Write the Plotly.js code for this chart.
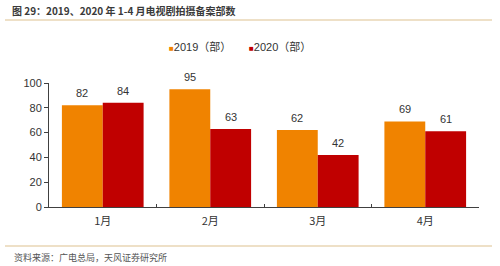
<!DOCTYPE html>
<html>
<head>
<meta charset="utf-8">
<script src="https://cdn.plot.ly/plotly-3.0.1.min.js"></script>
<style>
  html, body { margin: 0; padding: 0; background: #ffffff; }
  #chart { width: 500px; height: 266px; }
</style>
</head>
<body>
<div id="chart"></div>
<script>
// 电视剧拍摄备案部数（1-4 月）
const months = ['1月', '2月', '3月', '4月'];
const counts2019 = [82, 95, 62, 69];
const counts2020 = [84, 63, 42, 61];
const seriesNames = ['2019（部）', '2020（部）'];
const yTicks = [0, 20, 40, 60, 80, 100];

const ORANGE = '#F08300';
const RED = '#C00000';
const FONT = 'Liberation Sans, Arial, Noto Sans CJK SC, sans-serif';
const PLOT_W = 430;   // plot area width in px
const PLOT_H = 124;   // plot area height in px
const HALF_BAR = PLOT_W / months.length * (1 - 0.24) / 4; // half a bar, px

function barTrace(values, name, color) {
  return {
    type: 'bar',
    x: months,
    y: values,
    name: name,
    marker: { color: color },
    showlegend: false,
    hoverinfo: 'x+y'
  };
}

const data = [
  barTrace(counts2019, seriesNames[0], ORANGE),
  barTrace(counts2020, seriesNames[1], RED)
];

// value labels above each bar
function valueLabels(values, side) {
  return values.map((v, i) => ({
    x: months[i],
    y: v,
    xref: 'x', yref: 'y',
    text: String(v),
    showarrow: false,
    xanchor: 'center', yanchor: 'bottom',
    xshift: side * HALF_BAR,
    yshift: 4,
    font: { family: FONT, size: 11, color: '#333333' }
  }));
}

// legend keys: small coloured square followed by the series name
function legendKey(name, color, px) {
  return {
    text: '<span style="font-size:8px;color:' + color + '">■</span>' + name,
    xref: 'paper', yref: 'paper',
    x: (px - 49) / PLOT_W, xanchor: 'left',
    y: 1 + 37 / PLOT_H, yanchor: 'middle',
    showarrow: false,
    font: { family: 'Liberation Sans, Noto Sans CJK SC, sans-serif', size: 11, color: '#333333' }
  };
}

const rule = { type: 'line', xref: 'paper', yref: 'paper', line: { color: '#E9D6B4', width: 1.5 } };

const layout = {
  width: 500,
  height: 266,
  margin: { l: 49, r: 21, t: 83, b: 59 },
  paper_bgcolor: '#ffffff',
  plot_bgcolor: '#ffffff',
  font: { family: FONT, size: 11, color: '#333333' },
  title: {
    text: '<b>图 29：2019、2020 年 1-4 月电视剧拍摄备案部数</b>',
    font: { family: 'Noto Sans CJK SC, sans-serif', size: 10, color: '#3a3a3a' },
    xref: 'container', yref: 'container',
    x: 12 / 500, xanchor: 'left',
    y: 1 - 11 / 266, yanchor: 'middle'
  },
  barmode: 'group',
  bargap: 0.24,
  bargroupgap: 0,
  showlegend: false,
  xaxis: {
    type: 'category',
    showgrid: false,
    zeroline: false,
    showline: true,
    linecolor: '#404040',
    linewidth: 1,
    ticks: 'inside',
    tickson: 'boundaries',
    ticklen: 3,
    tickcolor: '#404040',
    ticklabelstandoff: 4,
    tickfont: { family: 'Noto Sans CJK SC, sans-serif', size: 11, color: '#333333' },
    fixedrange: true
  },
  yaxis: {
    range: [0, 100],
    tickvals: yTicks,
    showgrid: false,
    zeroline: false,
    showline: true,
    linecolor: '#404040',
    linewidth: 1,
    ticks: 'outside',
    ticklen: 4,
    tickcolor: '#404040',
    tickfont: { family: FONT, size: 11, color: '#333333' },
    fixedrange: true
  },
  shapes: [
    Object.assign({}, rule, { x0: -44 / PLOT_W, x1: 443 / PLOT_W, y0: 187 / PLOT_H, y1: 187 / PLOT_H }),
    Object.assign({}, rule, { x0: -44 / PLOT_W, x1: 443 / PLOT_W, y0: -39 / PLOT_H, y1: -39 / PLOT_H })
  ],
  annotations: [
    ...valueLabels(counts2019, -1),
    ...valueLabels(counts2020, 1),
    legendKey(seriesNames[0], ORANGE, 167),
    legendKey(seriesNames[1], RED, 247),
    {
      text: '资料来源：广电总局，天风证券研究所',
      xref: 'paper', yref: 'paper',
      x: -37 / PLOT_W, xanchor: 'left',
      y: -50 / PLOT_H, yanchor: 'middle',
      showarrow: false,
      font: { family: 'Noto Sans CJK SC, sans-serif', size: 9, color: '#555555' }
    }
  ]
};

Plotly.newPlot('chart', data, layout, { displayModeBar: false, staticPlot: true });
</script>
</body>
</html>
